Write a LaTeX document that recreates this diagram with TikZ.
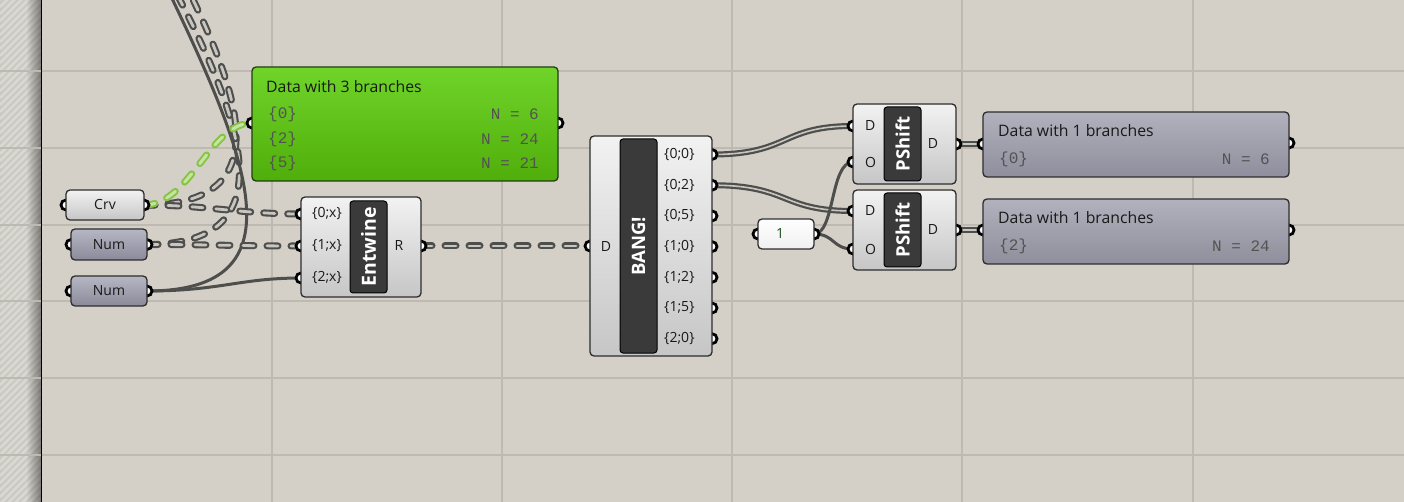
\documentclass[tikz,border=0pt]{standalone}
\usepackage{fontspec}
\setmainfont{Open Sans}
\newfontfamily\monofont{Liberation Mono}

\definecolor{canvasbg}{RGB}{212,208,200}
\definecolor{gridcol}{RGB}{190,186,178}
\definecolor{stripL}{RGB}{203,200,193}
\definecolor{compT}{RGB}{242,242,242}
\definecolor{compB}{RGB}{198,198,198}
\definecolor{compedge}{RGB}{45,45,45}
\definecolor{numT}{RGB}{182,182,196}
\definecolor{numB}{RGB}{138,138,154}
\definecolor{greenT}{RGB}{112,212,42}
\definecolor{greenB}{RGB}{80,174,10}
\definecolor{greenedge}{RGB}{35,60,20}
\definecolor{panT}{RGB}{178,178,190}
\definecolor{panB}{RGB}{142,142,156}
\definecolor{barcol}{RGB}{58,58,58}
\definecolor{wirecol}{RGB}{78,78,76}
\definecolor{wirein}{RGB}{200,198,192}
\definecolor{selwire}{RGB}{135,196,68}
\definecolor{selin}{RGB}{196,228,160}
\definecolor{txtcol}{RGB}{25,25,25}
\definecolor{onecol}{RGB}{25,80,25}

\pgfdeclarelayer{canvas}
\pgfdeclarelayer{wires}
\pgfdeclarelayer{grips}
\pgfsetlayers{canvas,wires,grips,main}

\begin{document}
\begin{tikzpicture}[x=1pt,y=-1pt,
    comp/.style={draw=compedge,line width=1.3pt,rounded corners=4pt,top color=compT,bottom color=compB,inner sep=0pt,font=\fontsize{14}{16}\selectfont,text=txtcol},
    numpar/.style={comp,top color=numT,bottom color=numB},
    greenpanel/.style={comp,draw=greenedge,top color=greenT,bottom color=greenB},
    greypanel/.style={comp,top color=panT,bottom color=panB},
    numbox/.style={comp,top color=white,bottom color=white!94!black},
    bar/.style={draw=black,line width=1pt,rounded corners=3pt,fill=barcol,inner sep=0pt,text=white,font=\fontsize{18.5}{20}\bfseries\selectfont},
    lbl/.style={inner sep=0pt,text=txtcol,font=\fontsize{14}{16}\selectfont},
    title/.style={inner sep=0pt,text=txtcol,font=\fontsize{15.8}{18}\selectfont},
    mono/.style={inner sep=0pt,text=txtcol!75,font=\monofont\fontsize{16}{18}\selectfont},
    grip/.style={circle,draw=black,fill=white,line width=2.8pt,inner sep=0pt,minimum size=10pt},
    item/.style={draw=wirecol,line width=3pt},
    list/.style={draw=wirecol,line width=2.2pt,double=wirein,double distance=1.6pt},
    tree/.style={draw=wirecol,line width=7pt,line cap=round,dash pattern=on 11pt off 13pt,
      postaction={draw=wirein,line width=2.8pt,line cap=round,dash pattern=on 11pt off 13pt}},
    treesel/.style={tree,draw=selwire,postaction={draw=selin,line width=2.8pt,line cap=round,dash pattern=on 11pt off 13pt}}]
\useasboundingbox (0,0) rectangle (1404,502);
\clip (0,0) rectangle (1404,502);

% canvas
\begin{pgfonlayer}{canvas}
  \fill[canvasbg] (0,0) rectangle (1404,502);
  \fill[stripL] (0,0) rectangle (41,502);
  \begin{scope}
    \clip (0,0) rectangle (41,502);
    \foreach \s in {0,7,...,560}
      \draw[white,opacity=0.3,line width=2.5pt] (0,\s) -- (41,\s-41);
    \foreach \i [evaluate=\i as \op using \i*0.028] in {0,...,14}
      \fill[black,opacity=\op] (26+\i,0) rectangle (27+\i,502);
  \end{scope}
  \foreach \y in {71,148,225,301,378,455}
    \draw[gridcol,line width=1.5pt] (0,\y) -- (1404,\y);
  \foreach \x in {272,502,732,962,1193}
    \draw[gridcol,line width=1.5pt] (\x,0) -- (\x,502);
  \draw[black,line width=1.6pt] (41.5,0) -- (41.5,502);
\end{pgfonlayer}

% params
\node[comp,minimum width=78pt,minimum height=30pt] (crv) at (105,205) {Crv};
\node[numpar,minimum width=76pt,minimum height=31pt] (numa) at (109,244.5) {Num};
\node[numpar,minimum width=76pt,minimum height=30pt] (numb) at (109,291) {Num};

% Entwine
\node[comp,minimum width=120pt,minimum height=100pt] (ent) at (361,247) {};
\node[bar,rotate=90,minimum width=92pt,minimum height=37pt,font=\fontsize{19.5}{21}\bfseries\selectfont] (entbar) at (368.5,247) {Entwine};
\node[lbl,anchor=west] (ent-l0) at (312,214) {\{0;x\}};
\node[lbl,anchor=west] (ent-l1) at (312,246) {\{1;x\}};
\node[lbl,anchor=west] (ent-l2) at (312,278) {\{2;x\}};
\node[lbl] (ent-r) at (399,246) {R};

% panel with 3 branches
\node[greenpanel,minimum width=306pt,minimum height=114pt] (tree) at (405,124) {};
\node[title,anchor=west] (tree-title) at (266,87) {Data with 3 branches};
\node[mono,anchor=west] (tree-p0) at (268,114) {\{0\}};
\node[mono,anchor=west] (tree-p1) at (268,139) {\{2\}};
\node[mono,anchor=west] (tree-p2) at (268,163) {\{5\}};
\node[mono,anchor=east] (tree-n0) at (539,114) {N = 6};
\node[mono,anchor=east] (tree-n1) at (539,139) {N = 24};
\node[mono,anchor=east] (tree-n2) at (539,163) {N = 21};

% BANG!
\node[comp,minimum width=122pt,minimum height=220pt] (bang) at (651,246) {};
\node[bar,rotate=90,minimum width=214pt,minimum height=37pt] (bangbar) at (638.5,246) {BANG!};
\node[lbl] (bang-d) at (606,247) {D};
\foreach \p [count=\k from 0] in {0;0,0;2,0;5,1;0,1;2,1;5,2;0}
  \node[lbl,anchor=west] (bang-l\k) at (664,154.5+30.7*\k) {\{\p\}};

% offset value
\node[numbox,minimum width=56pt,minimum height=30pt] (one) at (786,234) {};
\node[lbl,text=onecol] (one-val) at (780,234) {1};

% PShift
\node[comp,minimum width=103pt,minimum height=80pt] (psa) at (904.5,144) {};
\node[bar,rotate=90,minimum width=74pt,minimum height=37pt] (psabar) at (902.5,144) {PShift};
\node[lbl,anchor=west] (psa-ld) at (865,126) {D};
\node[lbl,anchor=west] (psa-lo) at (865,162) {O};
\node[lbl] (psa-lr) at (933,144) {D};
\node[comp,minimum width=103pt,minimum height=80pt] (psb) at (904.5,230) {};
\node[bar,rotate=90,minimum width=74pt,minimum height=37pt] (psbbar) at (902.5,230) {PShift};
\node[lbl,anchor=west] (psb-ld) at (865,211) {D};
\node[lbl,anchor=west] (psb-lo) at (865,249) {O};
\node[lbl] (psb-lr) at (933,230) {D};

% panels with 1 branch
\node[greypanel,minimum width=306pt,minimum height=65pt] (pana) at (1136,144.5) {};
\node[title,anchor=west] (pana-title) at (998,131) {Data with 1 branches};
\node[mono,anchor=west] (pana-p) at (999,159) {\{0\}};
\node[mono,anchor=east] (pana-n) at (1270,159) {N = 6};
\node[greypanel,minimum width=306pt,minimum height=65pt] (panb) at (1136,231.5) {};
\node[title,anchor=west] (panb-title) at (998,218) {Data with 1 branches};
\node[mono,anchor=west] (panb-p) at (999,246) {\{2\}};
\node[mono,anchor=east] (panb-n) at (1270,246) {N = 24};

% grips
\begin{pgfonlayer}{grips}
  \node[grip] (crv-in) at (66,205) {};
  \node[grip] (crv-out) at (144,205) {};
  \node[grip] (numa-in) at (71,244.5) {};
  \node[grip] (numa-out) at (147,244.5) {};
  \node[grip] (numb-in) at (71,291) {};
  \node[grip] (numb-out) at (147,291) {};
  \node[grip] (ent-i0) at (301,214) {};
  \node[grip] (ent-i1) at (301,246) {};
  \node[grip] (ent-i2) at (301,278) {};
  \node[grip] (ent-out) at (421,246) {};
  \node[grip] (tree-in) at (252,123) {};
  \node[grip] (tree-out) at (558,123) {};
  \node[grip] (bang-in) at (590,246) {};
  \foreach \k in {0,...,6}
    \node[grip] (bang-o\k) at (712,154.5+30.7*\k) {};
  \node[grip] (one-in) at (758,234) {};
  \node[grip] (one-out) at (814,234) {};
  \node[grip] (psa-d) at (853,126) {};
  \node[grip] (psa-o) at (853,162) {};
  \node[grip] (psa-out) at (956,144) {};
  \node[grip] (psb-d) at (853,211) {};
  \node[grip] (psb-o) at (853,249) {};
  \node[grip] (psb-out) at (956,230) {};
  \node[grip] (pana-in) at (983,144) {};
  \node[grip] (pana-out) at (1289,143) {};
  \node[grip] (panb-in) at (983,230) {};
  \node[grip] (panb-out) at (1289,230) {};
\end{pgfonlayer}

% wires
\coordinate (upa) at (163,-60);
\coordinate (upb) at (148,-60);
\coordinate (upc) at (134,-80);
\begin{pgfonlayer}{wires}
  \draw[tree] (crv-out.center) .. controls (290,205) and (236,80) .. (upa);
  \draw[tree] (numa-out.center) .. controls (300,244.5) and (236,100) .. (upb);
  \draw[item] (numb-out.center) .. controls (320,291) and (236,130) .. (upc);
  \draw[tree] (crv-out.center) .. controls (205,205) and (240,214) .. (ent-i0.center);
  \draw[tree] (numa-out.center) .. controls (210,244.5) and (240,246) .. (ent-i1.center);
  \draw[item] (numb-out.center) .. controls (220,291) and (240,278) .. (ent-i2.center);
  \draw[treesel] (crv-out.center) .. controls (190,205) and (210,123) .. (tree-in.center);
  \draw[tree] (ent-out.center) -- (bang-in.center);
  \draw[list] (bang-o0.center) .. controls (790,154.5) and (780,126) .. (psa-d.center);
  \draw[list] (bang-o1.center) .. controls (790,185.2) and (780,211) .. (psb-d.center);
  \draw[item] (one-out.center) .. controls (835,234) and (830,162) .. (psa-o.center);
  \draw[item] (one-out.center) .. controls (835,234) and (832,249) .. (psb-o.center);
  \draw[list] (psa-out.center) -- (pana-in.center);
  \draw[list] (psb-out.center) -- (panb-in.center);
\end{pgfonlayer}
\end{tikzpicture}
\end{document}
